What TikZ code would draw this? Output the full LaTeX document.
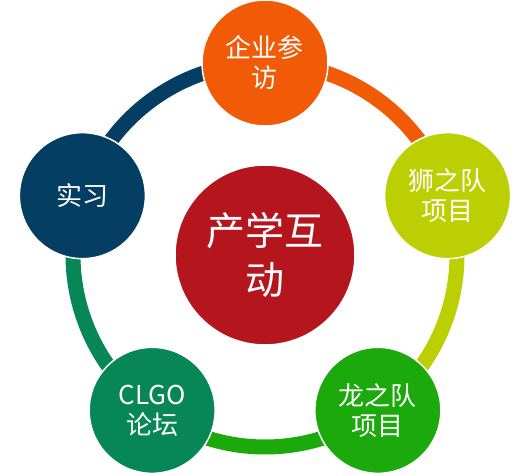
\documentclass[tikz,border=0pt]{standalone}
\usepackage{fontspec}
\setmainfont{Noto Sans CJK SC}
\usetikzlibrary{backgrounds}
\definecolor{cHub}{HTML}{B5161E}
\definecolor{cVisit}{HTML}{F15A06}
\definecolor{cLion}{HTML}{BCCF03}
\definecolor{cDragon}{HTML}{1BA90B}
\definecolor{cForum}{HTML}{078657}
\definecolor{cIntern}{HTML}{043E62}
\tikzset{
    topic/.style={
        circle, draw=white, line width=1.5pt, text=white, align=center,
        minimum size=126pt, inner sep=0pt, font=\fontsize{26}{30}\selectfont
    },
    hub/.style={
        circle, draw=white, line width=1.5pt, text=white, align=center,
        minimum size=180pt, inner sep=0pt, font=\fontsize{39}{49}\selectfont
    },
    ring/.style={
        draw=#1, line width=15pt
    }
}
\begin{document}
\begin{tikzpicture}[x=1pt, y=1pt]
      \useasboundingbox (-265,-221) rectangle (265,255);
      \node[hub, fill=cHub] (hub) at (0,0) {产学互\\动};

      \node[topic, fill=cVisit] (visit) at (90:192pt) {企业参\\访};
      \node[topic, fill=cLion] (lion) at (18:192pt) {狮之队\\项目};
      \node[topic, fill=cDragon] (dragon) at (-54:192pt) {龙之队\\项目};
      \node[topic, fill=cForum] (forum) at (-126:192pt) {CLGO\\论坛};
      \node[topic, fill=cIntern] (intern) at (162:192pt) {实习};

      \begin{scope}[on background layer]
        \draw[ring=cVisit] (visit.center) arc[start angle=90, end angle=18, radius=192pt];
        \draw[ring=cLion] (lion.center) arc[start angle=18, end angle=-54, radius=192pt];
        \draw[ring=cDragon] (dragon.center) arc[start angle=-54, end angle=-126, radius=192pt];
        \draw[ring=cForum] (forum.center) arc[start angle=-126, end angle=-198, radius=192pt];
        \draw[ring=cIntern] (intern.center) arc[start angle=162, end angle=90, radius=192pt];
      \end{scope}
    \end{tikzpicture}
\end{document}
